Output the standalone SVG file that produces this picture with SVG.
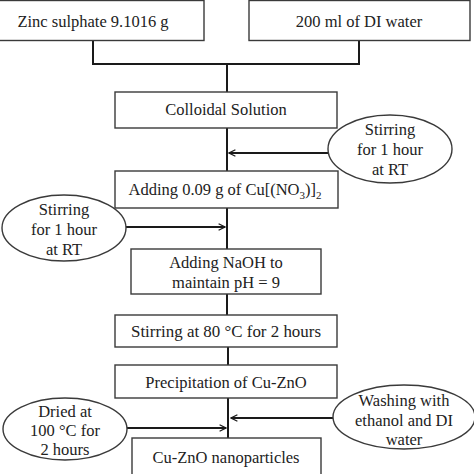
<svg xmlns="http://www.w3.org/2000/svg" width="474" height="474" viewBox="0 0 474 474">
<defs>
<style>
.box{fill:#fff;stroke:#3a3a3a;stroke-width:1.4}
.ell{fill:#fff;stroke:#3a3a3a;stroke-width:1.4}
.t{font-family:"Liberation Serif","Times New Roman",serif;font-size:16.5px;fill:#222;text-anchor:middle}
.ln{stroke:#1a1a1a;stroke-width:2;fill:none}
</style>
<marker id="ah" viewBox="0 0 10 10" refX="9" refY="5" markerWidth="8" markerHeight="8" orient="auto" markerUnits="userSpaceOnUse">
<path d="M1,1 L9,5 L1,9" fill="none" stroke="#1a1a1a" stroke-width="1.6"/>
</marker>
</defs>
<rect width="474" height="474" fill="#fff"/>
<g id="connectors">
<path class="ln" d="M93,41 V64 M359,41 V64 M92,64 H360 M227,64 V92"/>
<path class="ln" d="M227,128 V171"/>
<path class="ln" d="M328,153 H229" marker-end="url(#ah)"/>
<path class="ln" d="M227,208 V249"/>
<path class="ln" d="M126,227 H225" marker-end="url(#ah)"/>
<path class="ln" d="M227,294 V315"/>
<path class="ln" d="M228,347 V365"/>
<path class="ln" d="M228,398 V438"/>
<path class="ln" d="M333,418 H231" marker-end="url(#ah)"/>
<path class="ln" d="M127,428 H226" marker-end="url(#ah)"/>
</g>
<g id="zinc"><rect class="box" x="-2" y="0.5" width="206" height="40"/><text class="t" x="93" y="27">Zinc sulphate 9.1016 g</text></g>
<g id="water"><rect class="box" x="249" y="0.5" width="221" height="40"/><text class="t" x="359" y="27">200 ml of DI water</text></g>
<g id="colloidal"><rect class="box" x="115" y="92" width="222" height="36"/><text class="t" x="226" y="115">Colloidal Solution</text></g>
<g id="stir1"><ellipse class="ell" cx="390" cy="149" rx="62" ry="34"/><text class="t" x="390" y="135">Stirring</text><text class="t" x="390" y="155">for 1 hour</text><text class="t" x="390" y="175">at RT</text></g>
<g id="addcu"><rect class="box" x="115" y="171" width="223" height="37"/><text class="t" x="225" y="195">Adding 0.09 g of Cu[(NO<tspan font-size="11" dy="4">3</tspan><tspan dy="-4">)]</tspan><tspan font-size="11" dy="4">2</tspan></text></g>
<g id="stir2"><ellipse class="ell" cx="64" cy="228" rx="62" ry="33"/><text class="t" x="64" y="215">Stirring</text><text class="t" x="64" y="235">for 1 hour</text><text class="t" x="64" y="255">at RT</text></g>
<g id="naoh"><rect class="box" x="131" y="249" width="190" height="45"/><text class="t" x="226" y="268">Adding NaOH to</text><text class="t" x="226" y="288">maintain pH = 9</text></g>
<g id="stir80"><rect class="box" x="115" y="315" width="222" height="32"/><text class="t" x="226" y="337" textLength="190" lengthAdjust="spacingAndGlyphs">Stirring at 80 °C for 2 hours</text></g>
<g id="precip"><rect class="box" x="115" y="365" width="222" height="33"/><text class="t" x="226" y="388">Precipitation of Cu-ZnO</text></g>
<g id="wash"><ellipse class="ell" cx="404" cy="417" rx="71" ry="32"/><text class="t" x="404" y="406">Washing with</text><text class="t" x="404" y="426">ethanol and DI</text><text class="t" x="404" y="445">water</text></g>
<g id="dried"><ellipse class="ell" cx="65" cy="429" rx="62" ry="31"/><text class="t" x="65" y="417">Dried at</text><text class="t" x="65" y="436">100 °C for</text><text class="t" x="65" y="455">2 hours</text></g>
<g id="nano"><rect class="box" x="132" y="438" width="189" height="40"/><text class="t" x="226" y="463">Cu-ZnO nanoparticles</text></g>
</svg>
